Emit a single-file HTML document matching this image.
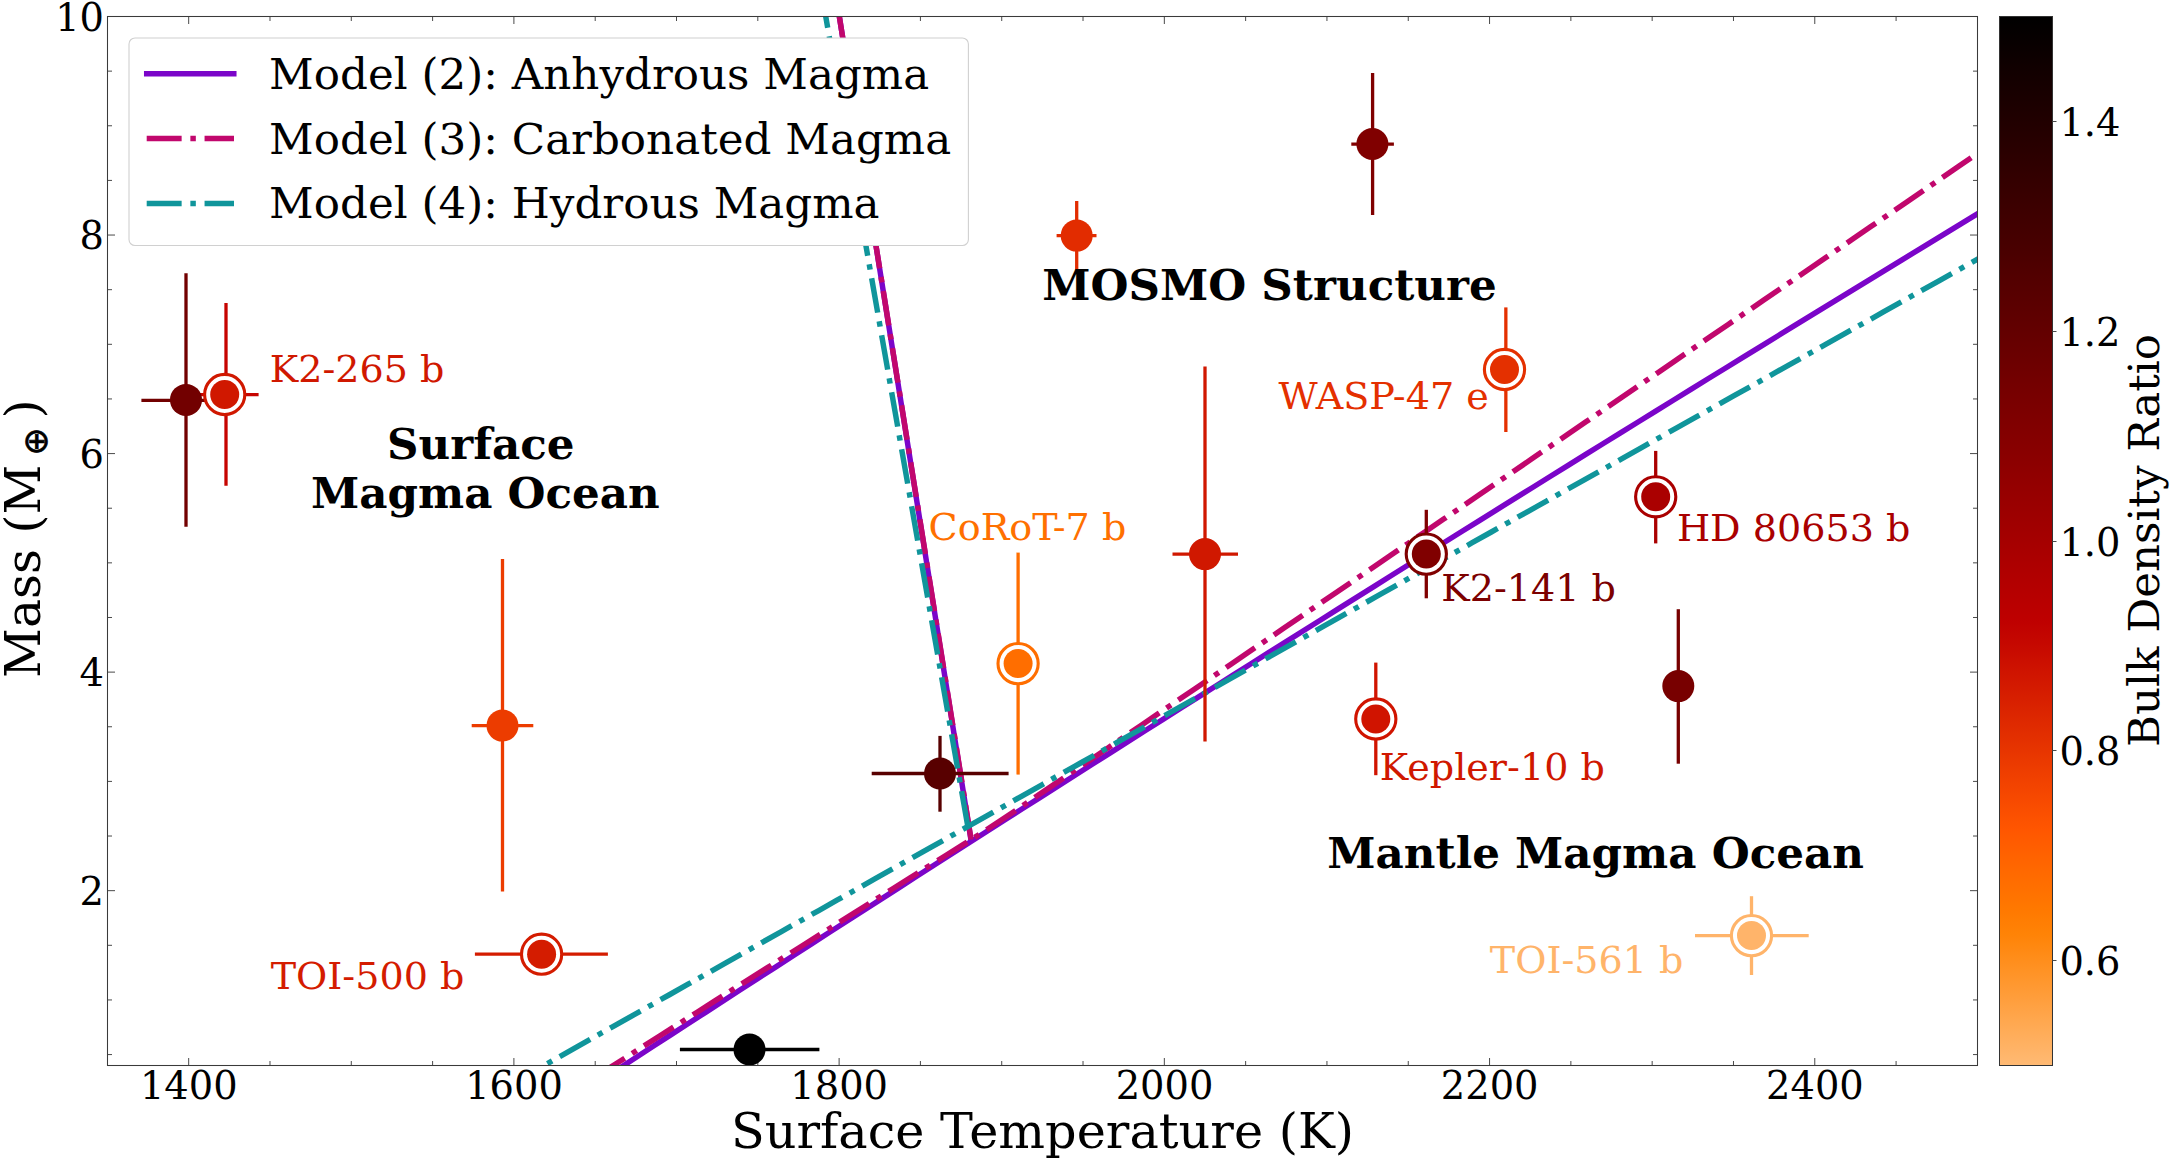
<!DOCTYPE html>
<html lang="en"><head><meta charset="utf-8"><title>Mass vs Surface Temperature</title>
<style>html,body{margin:0;padding:0;background:#fff}body{width:2170px;height:1160px;overflow:hidden}</style></head>
<body>
<svg width="2170" height="1160" viewBox="0 0 2170 1160" style="display:block;font-family:'DejaVu Serif', 'Liberation Serif', serif">
<rect width="2170" height="1160" fill="#fff"/>
<defs><clipPath id="axclip"><rect x="107.5" y="16.5" width="1870.0" height="1049.0"/></clipPath>
<linearGradient id="cb" x1="0" y1="0" x2="0" y2="1">
<stop offset="0.0000" stop-color="#000000"/>
<stop offset="0.0250" stop-color="#080000"/>
<stop offset="0.0500" stop-color="#110000"/>
<stop offset="0.0750" stop-color="#190000"/>
<stop offset="0.1000" stop-color="#210000"/>
<stop offset="0.1250" stop-color="#290000"/>
<stop offset="0.1500" stop-color="#320000"/>
<stop offset="0.1750" stop-color="#3a0000"/>
<stop offset="0.2000" stop-color="#420000"/>
<stop offset="0.2250" stop-color="#4a0000"/>
<stop offset="0.2500" stop-color="#530000"/>
<stop offset="0.2750" stop-color="#5b0000"/>
<stop offset="0.3000" stop-color="#630000"/>
<stop offset="0.3250" stop-color="#6b0000"/>
<stop offset="0.3500" stop-color="#740000"/>
<stop offset="0.3750" stop-color="#7c0000"/>
<stop offset="0.4000" stop-color="#840000"/>
<stop offset="0.4250" stop-color="#8c0000"/>
<stop offset="0.4500" stop-color="#950000"/>
<stop offset="0.4750" stop-color="#9d0000"/>
<stop offset="0.5000" stop-color="#a50000"/>
<stop offset="0.5250" stop-color="#ae0000"/>
<stop offset="0.5500" stop-color="#b60000"/>
<stop offset="0.5750" stop-color="#be0000"/>
<stop offset="0.6000" stop-color="#c60900"/>
<stop offset="0.6250" stop-color="#cf1400"/>
<stop offset="0.6500" stop-color="#d71f00"/>
<stop offset="0.6750" stop-color="#df2a00"/>
<stop offset="0.7000" stop-color="#e73500"/>
<stop offset="0.7250" stop-color="#f04000"/>
<stop offset="0.7500" stop-color="#f84b00"/>
<stop offset="0.7750" stop-color="#ff5600"/>
<stop offset="0.8000" stop-color="#ff6200"/>
<stop offset="0.8250" stop-color="#ff6d00"/>
<stop offset="0.8500" stop-color="#ff7800"/>
<stop offset="0.8750" stop-color="#ff8306"/>
<stop offset="0.9000" stop-color="#ff8e1c"/>
<stop offset="0.9250" stop-color="#ff9932"/>
<stop offset="0.9500" stop-color="#ffa448"/>
<stop offset="0.9750" stop-color="#ffaf5e"/>
<stop offset="1.0000" stop-color="#ffba74"/>
</linearGradient></defs>
<path d="M188.68,1065.5v-7.5M188.68,16.5v7.5M269.99,1065.5v-4.5M269.99,16.5v4.5M351.29,1065.5v-4.5M351.29,16.5v4.5M432.60,1065.5v-4.5M432.60,16.5v4.5M513.90,1065.5v-7.5M513.90,16.5v7.5M595.21,1065.5v-4.5M595.21,16.5v4.5M676.51,1065.5v-4.5M676.51,16.5v4.5M757.81,1065.5v-4.5M757.81,16.5v4.5M839.12,1065.5v-7.5M839.12,16.5v7.5M920.42,1065.5v-4.5M920.42,16.5v4.5M1001.73,1065.5v-4.5M1001.73,16.5v4.5M1083.03,1065.5v-4.5M1083.03,16.5v4.5M1164.34,1065.5v-7.5M1164.34,16.5v7.5M1245.64,1065.5v-4.5M1245.64,16.5v4.5M1326.95,1065.5v-4.5M1326.95,16.5v4.5M1408.25,1065.5v-4.5M1408.25,16.5v4.5M1489.55,1065.5v-7.5M1489.55,16.5v7.5M1570.86,1065.5v-4.5M1570.86,16.5v4.5M1652.16,1065.5v-4.5M1652.16,16.5v4.5M1733.47,1065.5v-4.5M1733.47,16.5v4.5M1814.77,1065.5v-7.5M1814.77,16.5v7.5M1896.08,1065.5v-4.5M1896.08,16.5v4.5M107.5,1054.57h4.5M1977.5,1054.57h-4.5M107.5,999.94h4.5M1977.5,999.94h-4.5M107.5,945.30h4.5M1977.5,945.30h-4.5M107.5,890.67h7.5M1977.5,890.67h-7.5M107.5,836.03h4.5M1977.5,836.03h-4.5M107.5,781.40h4.5M1977.5,781.40h-4.5M107.5,726.76h4.5M1977.5,726.76h-4.5M107.5,672.12h7.5M1977.5,672.12h-7.5M107.5,617.49h4.5M1977.5,617.49h-4.5M107.5,562.85h4.5M1977.5,562.85h-4.5M107.5,508.22h4.5M1977.5,508.22h-4.5M107.5,453.58h7.5M1977.5,453.58h-7.5M107.5,398.95h4.5M1977.5,398.95h-4.5M107.5,344.31h4.5M1977.5,344.31h-4.5M107.5,289.68h4.5M1977.5,289.68h-4.5M107.5,235.04h7.5M1977.5,235.04h-7.5M107.5,180.41h4.5M1977.5,180.41h-4.5M107.5,125.77h4.5M1977.5,125.77h-4.5M107.5,71.14h4.5M1977.5,71.14h-4.5" stroke="#4a4a4a" stroke-width="1" fill="none"/>
<g clip-path="url(#axclip)" fill="none">
<path d="M600.00,1080.89 L617.59,1069.44 L635.19,1058.00 L652.78,1046.58 L670.38,1035.16 L687.97,1023.75 L705.57,1012.35 L723.16,1000.96 L740.76,989.58 L758.35,978.21 L775.95,966.85 L793.54,955.50 L811.14,944.16 L828.73,932.83 L846.33,921.51 L863.92,910.19 L881.52,898.89 L899.11,887.60 L916.71,876.32 L934.30,865.04 L951.90,853.78 L969.49,842.52 L987.09,831.28 L1004.68,820.04 L1022.28,808.82 L1039.87,797.60 L1057.47,786.40 L1075.06,775.20 L1092.66,764.01 L1110.25,752.83 L1127.85,741.67 L1145.44,730.51 L1163.04,719.36 L1180.63,708.22 L1198.23,697.09 L1215.82,685.97 L1233.42,674.86 L1251.01,663.76 L1268.61,652.67 L1286.20,641.59 L1303.80,630.52 L1321.39,619.46 L1338.99,608.41 L1356.58,597.36 L1374.18,586.33 L1391.77,575.31 L1409.37,564.29 L1426.96,553.29 L1444.56,542.30 L1462.15,531.31 L1479.75,520.34 L1497.34,509.37 L1514.94,498.42 L1532.53,487.47 L1550.13,476.53 L1567.72,465.61 L1585.32,454.69 L1602.91,443.78 L1620.51,432.88 L1638.10,421.99 L1655.70,411.12 L1673.29,400.25 L1690.89,389.39 L1708.48,378.54 L1726.08,367.70 L1743.67,356.87 L1761.27,346.05 L1778.86,335.24 L1796.46,324.43 L1814.05,313.64 L1831.65,302.86 L1849.24,292.09 L1866.84,281.32 L1884.43,270.57 L1902.03,259.83 L1919.62,249.09 L1937.22,238.37 L1954.81,227.65 L1972.41,216.95 L1990.00,206.25" stroke="#7b05c9" stroke-width="5.4585"/>
<path d="M971.20,841.30 L839.30,16.30 L836.10,-3.70" stroke="#7b05c9" stroke-width="5.4585"/>
<path d="M590.00,1080.29 L607.78,1068.95 L625.57,1057.63 L643.35,1046.32 L661.14,1035.01 L678.92,1023.72 L696.71,1012.44 L714.49,1001.16 L732.28,989.90 L750.06,978.64 L767.85,967.40 L785.63,956.17 L803.42,944.94 L821.20,933.73 L838.99,922.52 L856.77,911.33 L874.56,900.14 L892.34,888.97 L910.13,877.80 L927.91,866.64 L945.70,855.50 L963.48,844.36 L971.20,839.54 L981.27,833.14 L999.05,821.50 L1016.84,809.64 L1034.62,797.66 L1052.41,785.62 L1070.19,773.56 L1087.97,761.48 L1105.76,749.39 L1123.54,737.30 L1141.33,725.20 L1159.11,713.10 L1176.90,700.99 L1194.68,688.89 L1212.47,676.78 L1230.25,664.66 L1248.04,652.55 L1265.82,640.43 L1283.61,628.31 L1301.39,616.18 L1319.18,604.06 L1336.96,591.93 L1354.75,579.80 L1372.53,567.66 L1390.32,555.53 L1408.10,543.39 L1425.89,531.24 L1443.67,519.10 L1461.46,506.95 L1479.24,494.80 L1497.03,482.65 L1514.81,470.49 L1532.59,458.33 L1550.38,446.17 L1568.16,434.01 L1585.95,421.84 L1603.73,409.68 L1621.52,397.50 L1639.30,385.33 L1657.09,373.15 L1674.87,360.98 L1692.66,348.79 L1710.44,336.61 L1728.23,324.42 L1746.01,312.23 L1763.80,300.04 L1781.58,287.84 L1799.37,275.65 L1817.15,263.45 L1834.94,251.24 L1852.72,239.04 L1870.51,226.83 L1888.29,214.62 L1906.08,202.40 L1923.86,190.19 L1941.65,177.97 L1959.43,165.75 L1977.22,153.52 L1995.00,141.30" stroke="#c1076d" stroke-width="5.4585" stroke-dasharray="34.934 8.734 5.458 8.734" stroke-dashoffset="51.65"/>
<path d="M971.20,840.20 L839.30,16.30 L836.10,-3.70" stroke="#c1076d" stroke-width="5.4585" stroke-dasharray="34.934 8.734 5.458 8.734" stroke-dashoffset="57.32"/>
<path d="M520.00,1079.06 L538.67,1068.52 L557.34,1057.98 L576.01,1047.44 L594.68,1036.90 L613.35,1026.36 L632.03,1015.82 L650.70,1005.29 L669.37,994.75 L688.04,984.22 L706.71,973.69 L725.38,963.16 L744.05,952.62 L762.72,942.10 L781.39,931.57 L800.06,921.04 L818.73,910.51 L837.41,899.99 L856.08,889.46 L874.75,878.94 L893.42,868.42 L912.09,857.90 L930.76,847.38 L949.43,836.86 L968.10,826.34 L986.77,815.82 L1005.44,805.30 L1024.11,794.79 L1042.78,784.28 L1061.46,773.76 L1080.13,763.25 L1098.80,752.74 L1117.47,742.23 L1136.14,731.72 L1154.81,721.21 L1173.48,710.71 L1192.15,700.20 L1210.82,689.70 L1229.49,679.19 L1248.16,668.69 L1266.84,658.19 L1285.51,647.69 L1304.18,637.19 L1322.85,626.69 L1341.52,616.19 L1360.19,605.70 L1378.86,595.20 L1397.53,584.71 L1416.20,574.21 L1434.87,563.72 L1453.54,553.23 L1472.22,542.74 L1490.89,532.25 L1509.56,521.76 L1528.23,511.28 L1546.90,500.79 L1565.57,490.31 L1584.24,479.82 L1602.91,469.34 L1621.58,458.86 L1640.25,448.38 L1658.92,437.90 L1677.59,427.42 L1696.27,416.94 L1714.94,406.47 L1733.61,395.99 L1752.28,385.52 L1770.95,375.04 L1789.62,364.57 L1808.29,354.10 L1826.96,343.63 L1845.63,333.16 L1864.30,322.69 L1882.97,312.22 L1901.65,301.76 L1920.32,291.29 L1938.99,280.83 L1957.66,270.37 L1976.33,259.90 L1995.00,249.44" stroke="#10959b" stroke-width="5.4585" stroke-dasharray="34.934 8.734 5.458 8.734" stroke-dashoffset="12.22"/>
<path d="M968.40,829.80 L825.70,16.30 L822.20,-3.70" stroke="#10959b" stroke-width="5.4585" stroke-dasharray="34.934 8.734 5.458 8.734" stroke-dashoffset="53.55"/>
</g>
<g clip-path="url(#axclip)">
<line x1="1695.0" y1="935.6" x2="1808.7" y2="935.6" stroke="#ffb46a" stroke-width="3.3"/>
<line x1="1751.5" y1="896.2" x2="1751.5" y2="975.0" stroke="#ffb46a" stroke-width="3.3"/>
<line x1="1678.3" y1="609.2" x2="1678.3" y2="763.7" stroke="#780000" stroke-width="3.3"/>
<line x1="1655.7" y1="450.9" x2="1655.7" y2="543.4" stroke="#aa0000" stroke-width="3.3"/>
<line x1="1505.85" y1="307.4" x2="1505.85" y2="432.0" stroke="#e43000" stroke-width="3.3"/>
<line x1="1426.3" y1="509.8" x2="1426.3" y2="598.3" stroke="#800000" stroke-width="3.3"/>
<line x1="1375.8" y1="662.6" x2="1375.8" y2="775.2" stroke="#d01400" stroke-width="3.3"/>
<line x1="1351.3" y1="144.2" x2="1393.9" y2="144.2" stroke="#800000" stroke-width="3.3"/>
<line x1="1372.6" y1="73.0" x2="1372.6" y2="215.1" stroke="#800000" stroke-width="3.3"/>
<line x1="1172.5" y1="554.1" x2="1238.0" y2="554.1" stroke="#d01800" stroke-width="3.3"/>
<line x1="1205.0" y1="366.4" x2="1205.0" y2="741.5" stroke="#d01800" stroke-width="3.3"/>
<line x1="1056.6" y1="235.6" x2="1096.5" y2="235.6" stroke="#e22c00" stroke-width="3.3"/>
<line x1="1076.7" y1="201.0" x2="1076.7" y2="270.2" stroke="#e22c00" stroke-width="3.3"/>
<line x1="1018.1" y1="552.6" x2="1018.1" y2="774.6" stroke="#ff6e00" stroke-width="3.3"/>
<line x1="871.7" y1="773.5" x2="1008.6" y2="773.5" stroke="#580000" stroke-width="3.3"/>
<line x1="940.0" y1="735.9" x2="940.0" y2="811.7" stroke="#580000" stroke-width="3.3"/>
<line x1="679.9" y1="1049.5" x2="819.4" y2="1049.5" stroke="#000000" stroke-width="3.3"/>
<line x1="474.9" y1="954.2" x2="607.9" y2="954.2" stroke="#d41c00" stroke-width="3.3"/>
<line x1="471.7" y1="725.6" x2="533.3" y2="725.6" stroke="#ec3c00" stroke-width="3.3"/>
<line x1="502.5" y1="559.0" x2="502.5" y2="891.4" stroke="#ec3c00" stroke-width="3.3"/>
<line x1="190.3" y1="394.6" x2="258.6" y2="394.6" stroke="#c60400" stroke-width="3.3"/>
<line x1="226.0" y1="303.0" x2="226.0" y2="485.8" stroke="#c60400" stroke-width="3.3"/>
<line x1="141.4" y1="400.3" x2="230.8" y2="400.3" stroke="#720000" stroke-width="3.3"/>
<line x1="186.0" y1="273.3" x2="186.0" y2="526.7" stroke="#720000" stroke-width="3.3"/>
<circle cx="186.0" cy="399.9" r="16.0" fill="#720000"/>
<circle cx="224.7" cy="394.5" r="20.1" fill="#fff" stroke="#d01800" stroke-width="3.1"/>
<circle cx="224.7" cy="394.5" r="14.5" fill="#d01800"/>
<circle cx="502.5" cy="725.6" r="16.0" fill="#ec3c00"/>
<circle cx="541.6" cy="954.2" r="20.1" fill="#fff" stroke="#d41c00" stroke-width="3.1"/>
<circle cx="541.6" cy="954.2" r="14.5" fill="#d41c00"/>
<circle cx="749.5" cy="1049.5" r="16.0" fill="#000000"/>
<circle cx="940.0" cy="773.5" r="16.0" fill="#580000"/>
<circle cx="1018.1" cy="663.6" r="20.1" fill="#fff" stroke="#ff6e00" stroke-width="3.1"/>
<circle cx="1018.1" cy="663.6" r="14.5" fill="#ff6e00"/>
<circle cx="1076.7" cy="235.6" r="16.0" fill="#e22c00"/>
<circle cx="1205.0" cy="554.1" r="16.0" fill="#d01800"/>
<circle cx="1372.4" cy="144.0" r="16.0" fill="#800000"/>
<circle cx="1375.8" cy="719.0" r="20.1" fill="#fff" stroke="#d01400" stroke-width="3.1"/>
<circle cx="1375.8" cy="719.0" r="14.5" fill="#d01400"/>
<circle cx="1426.3" cy="554.1" r="20.1" fill="#fff" stroke="#800000" stroke-width="3.1"/>
<circle cx="1426.3" cy="554.1" r="14.5" fill="#800000"/>
<circle cx="1504.5" cy="369.5" r="20.1" fill="#fff" stroke="#e43000" stroke-width="3.1"/>
<circle cx="1504.5" cy="369.5" r="14.5" fill="#e43000"/>
<circle cx="1655.7" cy="496.8" r="20.1" fill="#fff" stroke="#aa0000" stroke-width="3.1"/>
<circle cx="1655.7" cy="496.8" r="14.5" fill="#aa0000"/>
<circle cx="1678.3" cy="686.1" r="16.0" fill="#780000"/>
<circle cx="1751.5" cy="935.6" r="20.1" fill="#fff" stroke="#ffb46a" stroke-width="3.1"/>
<circle cx="1751.5" cy="935.6" r="14.5" fill="#ffb46a"/>
</g>
<rect x="107.5" y="16.5" width="1870.0" height="1049.0" fill="none" stroke="#3a3a3a" stroke-width="1.05"/>
<text x="188.8" y="1098.5" font-size="38.4" text-anchor="middle">1400</text>
<text x="514.0" y="1098.5" font-size="38.4" text-anchor="middle">1600</text>
<text x="839.2" y="1098.5" font-size="38.4" text-anchor="middle">1800</text>
<text x="1164.5" y="1098.5" font-size="38.4" text-anchor="middle">2000</text>
<text x="1489.7" y="1098.5" font-size="38.4" text-anchor="middle">2200</text>
<text x="1814.9" y="1098.5" font-size="38.4" text-anchor="middle">2400</text>
<text x="104.0" y="905.0" font-size="38.4" text-anchor="end">2</text>
<text x="104.0" y="686.4" font-size="38.4" text-anchor="end">4</text>
<text x="104.0" y="467.9" font-size="38.4" text-anchor="end">6</text>
<text x="104.0" y="249.3" font-size="38.4" text-anchor="end">8</text>
<text x="104.0" y="30.8" font-size="38.4" text-anchor="end">10</text>
<text x="1042.5" y="1147.7" font-size="49.3" text-anchor="middle">Surface Temperature (K)</text>
<g transform="translate(39.8,675.4) rotate(-90)"><text x="-2.5" y="0" font-size="48.7">Mass (M</text><text x="234.0" y="7.2" font-size="33.4" text-anchor="middle" stroke="#000" stroke-width="0.7" style="font-family:'DejaVu Sans','Liberation Sans',sans-serif">&#8853;</text><text x="256.8" y="0" font-size="49.3">)</text></g>
<rect x="1999.5" y="16.5" width="53.0" height="1049.0" fill="url(#cb)" stroke="#333" stroke-width="1"/>
<path d="M2052.5,960.5h4" stroke="#4a4a4a" stroke-width="1"/>
<text x="2059.4" y="975.1" font-size="38.4">0.6</text>
<path d="M2052.5,750.5h4" stroke="#4a4a4a" stroke-width="1"/>
<text x="2059.4" y="765.3" font-size="38.4">0.8</text>
<path d="M2052.5,541.5h4" stroke="#4a4a4a" stroke-width="1"/>
<text x="2059.4" y="555.5" font-size="38.4">1.0</text>
<path d="M2052.5,331.5h4" stroke="#4a4a4a" stroke-width="1"/>
<text x="2059.4" y="345.7" font-size="38.4">1.2</text>
<path d="M2052.5,121.5h4" stroke="#4a4a4a" stroke-width="1"/>
<text x="2059.4" y="135.9" font-size="38.4">1.4</text>
<text transform="translate(2158.8,540.6) rotate(-90)" font-size="43.6" text-anchor="middle">Bulk Density Ratio</text>
<rect x="129" y="38" width="839.4" height="207.5" rx="6" ry="6" fill="#fff" stroke="#d0d0d0" stroke-width="1.1"/>
<line x1="146.7" y1="73.7" x2="233.8" y2="73.7" stroke="#7b05c9" stroke-width="5.4585" stroke-linecap="square"/>
<line x1="146.7" y1="138.6" x2="234" y2="138.6" stroke="#c1076d" stroke-width="5.4585" stroke-dasharray="34.934 8.734 5.458 8.734"/>
<line x1="146.7" y1="203.4" x2="234" y2="203.4" stroke="#10959b" stroke-width="5.4585" stroke-dasharray="34.934 8.734 5.458 8.734"/>
<text x="269.1" y="88.8" font-size="43.6">Model (2): Anhydrous Magma</text>
<text x="269.1" y="153.6" font-size="43.6">Model (3): Carbonated Magma</text>
<text x="269.1" y="218.4" font-size="43.6">Model (4): Hydrous Magma</text>
<text x="1269.5" y="300.3" font-size="43.6" font-weight="bold" text-anchor="middle">MOSMO Structure</text>
<text x="1595.6" y="868.3" font-size="43.6" font-weight="bold" text-anchor="middle">Mantle Magma Ocean</text>
<text x="480.8" y="458.6" font-size="43.6" font-weight="bold" text-anchor="middle">Surface</text>
<text x="485.4" y="508.4" font-size="43.6" font-weight="bold" text-anchor="middle">Magma Ocean</text>
<text x="269.8" y="381.9" font-size="38.1" fill="#d01800">K2-265 b</text>
<text x="270.7" y="988.6" font-size="38.1" fill="#d41c00">TOI-500 b</text>
<text x="928.6" y="540.1" font-size="38.1" fill="#ff7000">CoRoT-7 b</text>
<text x="1278.5" y="408.8" font-size="38.1" fill="#e43000">WASP-47 e</text>
<text x="1441.3" y="600.5" font-size="38.1" fill="#7c0000">K2-141 b</text>
<text x="1676.9" y="540.9" font-size="38.1" fill="#aa0000">HD 80653 b</text>
<text x="1379.8" y="779.9" font-size="38.1" fill="#d01800">Kepler-10 b</text>
<text x="1489.8" y="972.8" font-size="38.1" fill="#ffb46a">TOI-561 b</text>
</svg>
</body></html>
